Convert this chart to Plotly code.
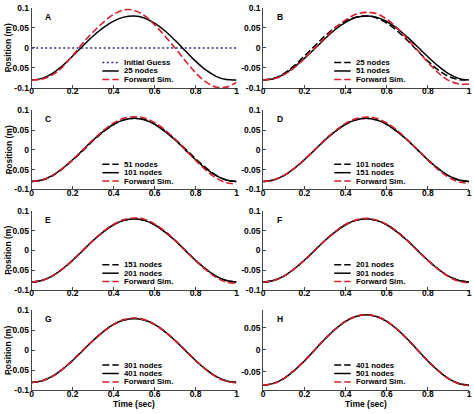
import plotly.graph_objects as go
from plotly.subplots import make_subplots

# ---------------- data ----------------
t = [0.00, 0.05, 0.10, 0.15, 0.20, 0.25, 0.30, 0.35, 0.40, 0.45, 0.50,
     0.55, 0.60, 0.65, 0.70, 0.75, 0.80, 0.85, 0.90, 0.95, 1.00]

initial_guess = [0.0] * 21

n25 = [-0.080, -0.076, -0.064, -0.045, -0.020, 0.005, 0.030, 0.051, 0.067, 0.077, 0.080,
       0.075, 0.062, 0.043, 0.019, -0.007, -0.033, -0.055, -0.071, -0.079, -0.080]
n51 = [-0.080, -0.077, -0.066, -0.048, -0.026, -0.002, 0.023, 0.046, 0.064, 0.076, 0.080,
       0.077, 0.066, 0.049, 0.027, 0.003, -0.022, -0.045, -0.064, -0.076, -0.080]
n101 = [-0.080, -0.076, -0.065, -0.047, -0.025, 0.000, 0.025, 0.047, 0.065, 0.076, 0.080,
        0.076, 0.065, 0.047, 0.025, 0.000, -0.025, -0.047, -0.065, -0.076, -0.080]
n151 = [-0.080, -0.076, -0.065, -0.047, -0.025, 0.000, 0.025, 0.047, 0.065, 0.076, 0.080,
        0.076, 0.065, 0.047, 0.025, 0.000, -0.025, -0.047, -0.065, -0.076, -0.080]
n201 = [-0.080, -0.076, -0.065, -0.047, -0.025, 0.000, 0.025, 0.047, 0.065, 0.076, 0.080,
        0.076, 0.065, 0.047, 0.025, 0.000, -0.025, -0.047, -0.065, -0.076, -0.080]
n301 = [-0.080, -0.076, -0.065, -0.047, -0.025, 0.000, 0.025, 0.047, 0.065, 0.076, 0.080,
        0.076, 0.065, 0.047, 0.025, 0.000, -0.025, -0.047, -0.065, -0.076, -0.080]
n401 = [-0.080, -0.076, -0.065, -0.047, -0.025, 0.000, 0.025, 0.047, 0.065, 0.076, 0.080,
        0.076, 0.065, 0.047, 0.025, 0.000, -0.025, -0.047, -0.065, -0.076, -0.080]
n501 = [-0.080, -0.076, -0.065, -0.047, -0.025, 0.000, 0.025, 0.047, 0.065, 0.076, 0.080,
        0.076, 0.065, 0.047, 0.025, 0.000, -0.025, -0.047, -0.065, -0.076, -0.080]

fwd_A = [-0.080, -0.078, -0.068, -0.048, -0.019, 0.012, 0.040, 0.064, 0.084, 0.095, 0.094,
         0.081, 0.058, 0.030, 0.000, -0.032, -0.062, -0.085, -0.098, -0.098, -0.086]
fwd_B = [-0.080, -0.077, -0.067, -0.050, -0.027, -0.001, 0.025, 0.050, 0.070, 0.084, 0.089,
         0.086, 0.072, 0.050, 0.023, -0.006, -0.036, -0.062, -0.081, -0.090, -0.090]
fwd_C = [-0.080, -0.076, -0.065, -0.047, -0.025, 0.000, 0.026, 0.049, 0.068, 0.080, 0.084,
         0.081, 0.069, 0.051, 0.027, 0.001, -0.026, -0.051, -0.071, -0.083, -0.086]
fwd_D = [-0.080, -0.076, -0.065, -0.047, -0.025, 0.000, 0.026, 0.048, 0.067, 0.079, 0.083,
         0.080, 0.068, 0.050, 0.026, 0.001, -0.026, -0.050, -0.069, -0.081, -0.084]
fwd_E = [-0.080, -0.076, -0.065, -0.047, -0.025, 0.000, 0.025, 0.048, 0.066, 0.078, 0.082,
         0.079, 0.067, 0.049, 0.026, 0.000, -0.026, -0.049, -0.068, -0.080, -0.083]
fwd_F = [-0.080, -0.076, -0.065, -0.047, -0.025, 0.000, 0.025, 0.047, 0.066, 0.077, 0.081,
         0.077, 0.066, 0.048, 0.025, 0.000, -0.025, -0.048, -0.066, -0.078, -0.082]
fwd_G = [-0.080, -0.076, -0.065, -0.047, -0.025, 0.000, 0.025, 0.047, 0.065, 0.077, 0.081,
         0.077, 0.065, 0.047, 0.025, 0.000, -0.025, -0.047, -0.066, -0.077, -0.081]
fwd_H = [-0.080, -0.076, -0.065, -0.047, -0.025, 0.000, 0.025, 0.047, 0.065, 0.076, 0.080,
         0.076, 0.065, 0.047, 0.025, 0.000, -0.025, -0.047, -0.065, -0.077, -0.081]

panel_letters = ["A", "B", "C", "D", "E", "F", "G", "H"]
prev_series = [initial_guess, n25, n51, n101, n151, n201, n301, n401]
prev_labels = ["Initial Guess", "25 nodes", "51 nodes", "101 nodes",
               "151 nodes", "201 nodes", "301 nodes", "401 nodes"]
curr_series = [n25, n51, n101, n151, n201, n301, n401, n501]
curr_labels = ["25 nodes", "51 nodes", "101 nodes", "151 nodes",
               "201 nodes", "301 nodes", "401 nodes", "501 nodes"]
fwd_series = [fwd_A, fwd_B, fwd_C, fwd_D, fwd_E, fwd_F, fwd_G, fwd_H]
fwd_label = "Forward Sim."

x_ticks = [0, 0.2, 0.4, 0.6, 0.8, 1]
x_ticktext = ["0", "0.2", "0.4", "0.6", "0.8", "1"]
y_ticks = [-0.1, -0.05, 0, 0.05, 0.1]
y_ticktext = ["-0.1", "-0.05", "0", "0.05", "0.1"]
y_ticks_H = [-0.05, 0, 0.05]
y_ticktext_H = ["-0.05", "0", "0.05"]

# ---------------- styling ----------------
W, H = 474, 414
FONT = "Liberation Sans, Arial, sans-serif"
RED = "#d4202c"
NAVY = "#2a2a8c"
AXC = "#444444"

col_x = [[30 / W, 237 / W], [264 / W, 472 / W]]
row_y = [[1 - 85 / H, 1 - 3 / H], [1 - 189 / H, 1 - 108 / H],
         [1 - 292 / H, 1 - 211 / H], [1 - 395 / H, 1 - 313 / H]]

fig = make_subplots(rows=4, cols=2)

shapes = []
annotations = []
for i in range(8):
    r, c = i // 2 + 1, i % 2 + 1
    axn = "" if i == 0 else str(i + 1)
    if i == 0:
        prev_line = dict(color=NAVY, width=1.6, dash="2px,2.5px")
    else:
        prev_line = dict(color="black", width=1.5, dash="7px,3px")
    cur_line = dict(color="black", width=1.5)
    fwd_line = dict(color=RED, width=1.6, dash="7px,3px")
    fig.add_trace(go.Scatter(x=t, y=prev_series[i], mode="lines", line=dict(shape="spline", **prev_line),
                             showlegend=False), row=r, col=c)
    fig.add_trace(go.Scatter(x=t, y=curr_series[i], mode="lines", line=dict(shape="spline", **cur_line),
                             showlegend=False), row=r, col=c)
    fig.add_trace(go.Scatter(x=t, y=fwd_series[i], mode="lines", line=dict(shape="spline", **fwd_line),
                             showlegend=False), row=r, col=c)

    # manual legend
    rows_y = [0.318, 0.212, 0.106]
    for ly, style, lab in zip(rows_y, [prev_line, cur_line, fwd_line],
                              [prev_labels[i], curr_labels[i], fwd_label]):
        shapes.append(dict(type="line", xref=f"x{axn} domain", yref=f"y{axn} domain",
                           x0=0.345, x1=0.425, y0=ly, y1=ly, line=style))
        annotations.append(dict(xref=f"x{axn} domain", yref=f"y{axn} domain", x=0.442, y=ly,
                                text=lab, showarrow=False, xanchor="left", yanchor="middle",
                                font=dict(family=FONT, size=7.8, color="black", weight="bold")))
    # panel letter
    annotations.append(dict(xref=f"x{axn} domain", yref=f"y{axn} domain", x=0.055, y=0.89,
                            text=panel_letters[i], showarrow=False, xanchor="left", yanchor="middle",
                            font=dict(family=FONT, size=8.5, color="black", weight="bold")))

    xa = dict(domain=col_x[c - 1], range=[0, 1], tickvals=x_ticks, ticktext=x_ticktext,
              ticks="inside", ticklen=3, tickcolor=AXC, showline=True, linecolor=AXC, linewidth=1,
              showgrid=False, zeroline=False, mirror=False, ticklabelstandoff=-5,
              tickfont=dict(family=FONT, size=8.5, color="black", weight="bold"))
    if i == 7:
        yr, yt, ytt = [-0.092, 0.0896], y_ticks_H, y_ticktext_H
    else:
        yr, yt, ytt = [-0.1, 0.1], y_ticks, y_ticktext
    ya = dict(domain=row_y[r - 1], range=yr, tickvals=yt, ticktext=ytt,
              ticks="inside", ticklen=3, tickcolor=AXC, showline=True, linecolor=AXC, linewidth=1,
              showgrid=False, zeroline=False, mirror=False,
              tickfont=dict(family=FONT, size=8.5, color="black", weight="bold"))
    fig.layout[f"xaxis{axn}"].update(xa)
    fig.layout[f"yaxis{axn}"].update(ya)

# y-axis titles (left column)
for r in range(4):
    yc = (row_y[r][0] + row_y[r][1]) / 2
    annotations.append(dict(xref="paper", yref="paper", x=6.5 / W, y=yc, text="Position (m)",
                            textangle=-90, showarrow=False, xanchor="center", yanchor="middle",
                            font=dict(family=FONT, size=8.5, color="black", weight="bold")))
# x-axis titles (bottom row)
for c in range(2):
    xc = (col_x[c][0] + col_x[c][1]) / 2
    annotations.append(dict(xref="paper", yref="paper", x=xc, y=1 - 408.5 / H, text="Time (sec)",
                            showarrow=False, xanchor="center", yanchor="middle",
                            font=dict(family=FONT, size=8.5, color="black", weight="bold")))

fig.update_layout(width=W, height=H, margin=dict(l=0, r=0, t=0, b=0),
                  paper_bgcolor="white", plot_bgcolor="white",
                  shapes=shapes, annotations=annotations, showlegend=False)

fig.write_html("out.html")
